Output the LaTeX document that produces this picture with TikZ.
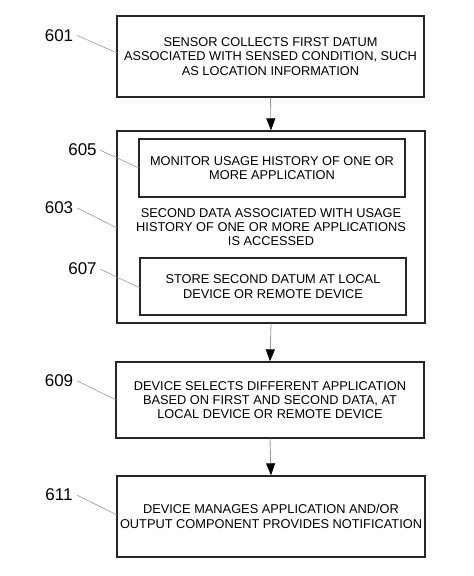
\documentclass[tikz,border=0pt]{standalone}
\usepackage{fontspec}
\setmainfont{Liberation Sans}
\usetikzlibrary{arrows.meta}
\begin{document}
\begin{tikzpicture}[x=1pt,y=-1pt,
  stepbox/.style={draw=black!85,line width=1.3pt,minimum width=#1,inner sep=0pt,align=center,
    font=\fontsize{12.8pt}{14.3pt}\selectfont},
  numlabel/.style={inner sep=0pt,font=\fontsize{17pt}{17pt}\selectfont},
  leader/.style={draw=black!40,line width=0.6pt},
  flow/.style={draw=black!40,line width=0.8pt,-{Triangle[width=9pt,length=12pt,color=black]}}]
\useasboundingbox (0,0) rectangle (474,576);
\node[stepbox=307pt,minimum height=81pt] (b601) at (270.5,56.5) {SENSOR COLLECTS FIRST DATUM\\ASSOCIATED WITH SENSED CONDITION, SUCH\\AS LOCATION INFORMATION};
\node[stepbox=308pt,minimum height=192pt] (b603) at (271,227) {};
\node[stepbox=266pt,minimum height=58pt] (b605) at (272,168) {MONITOR USAGE HISTORY OF ONE OR\\MORE APPLICATION};
\node[inner sep=0pt,align=center,font=\fontsize{12.8pt}{14.3pt}\selectfont] (t603) at (271,227) {SECOND DATA ASSOCIATED WITH USAGE\\HISTORY OF ONE OR MORE APPLICATIONS\\IS ACCESSED};
\node[stepbox=266pt,minimum height=57pt] (b607) at (273,286.5) {STORE SECOND DATUM AT LOCAL\\DEVICE OR REMOTE DEVICE};
\node[stepbox=308pt,minimum height=76pt] (b609) at (270,400) {DEVICE SELECTS DIFFERENT APPLICATION\\BASED ON FIRST AND SECOND DATA, AT\\LOCAL DEVICE OR REMOTE DEVICE};
\node[stepbox=308pt,minimum height=81pt] (b611) at (271,516.5) {DEVICE MANAGES APPLICATION AND/OR\\OUTPUT COMPONENT PROVIDES NOTIFICATION};

\node[numlabel] (l601) at (59,35.5) {601};
\node[numlabel] (l605) at (82.5,150) {605};
\node[numlabel] (l603) at (59,208) {603};
\node[numlabel] (l607) at (82.5,269) {607};
\node[numlabel] (l609) at (59,381) {609};
\node[numlabel] (l611) at (59,495) {611};

\coordinate (e601) at (117,53);
\coordinate (e605) at (139,168);
\coordinate (e603) at (117,228);
\coordinate (e607) at (140,288);
\coordinate (e609) at (116,400);
\coordinate (e611) at (117,515);
\draw[leader] ([xshift=4pt]l601.east) -- (e601);
\draw[leader] ([xshift=3pt]l605.east) -- (e605);
\draw[leader] ([xshift=4pt]l603.east) -- (e603);
\draw[leader] ([xshift=3pt]l607.east) -- (e607);
\draw[leader] ([xshift=4pt]l609.east) -- (e609);
\draw[leader] ([xshift=4pt]l611.east) -- (e611);

\draw[flow] (b601.south) -- (b603.north);
\draw[flow] (b603.south) -- (b609.north);
\draw[flow] (b609.south) -- (b611.north);
\end{tikzpicture}
\end{document}
